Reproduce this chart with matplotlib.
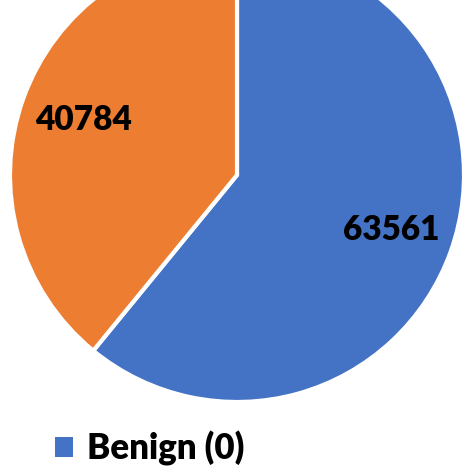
import matplotlib
matplotlib.use("Agg")
import matplotlib.pyplot as plt
from matplotlib.patches import Patch

labels = ["Benign (0)", "Malicious (1)"]
values = [63561, 40784]
colors = ["#4472C4", "#ED7D31"]

plt.rcParams['font.family'] = ['Lato', 'DejaVu Sans']

W = 474
fig = plt.figure(figsize=(4.74, 4.74), dpi=100)
ax = fig.add_axes([0, 0, 1, 1])

total = sum(values)
wedges, texts, autotexts = ax.pie(
    values, colors=colors, startangle=90, counterclock=False,
    center=(237, W - 175), radius=227, frame=True,
    autopct=lambda p: f"{round(p * total / 100):d}", pctdistance=0.72,
    wedgeprops=dict(edgecolor='white', linewidth=3),
    textprops=dict(fontsize=24, fontweight='heavy', color='black'))
ax.set_xlim(0, W)
ax.set_ylim(0, W)
ax.set_aspect('equal')
ax.axis('off')

handles = [Patch(facecolor=colors[0], edgecolor='none')]
fig.legend(handles, [labels[0]], loc='center left',
           bbox_to_anchor=(55 / W, (W - 448) / W), bbox_transform=fig.transFigure,
           frameon=False, borderpad=0, borderaxespad=0,
           handlelength=0.52, handleheight=0.52, handletextpad=0.4,
           prop=dict(size=25, weight='heavy'))

fig.savefig("out.png", dpi=100)
